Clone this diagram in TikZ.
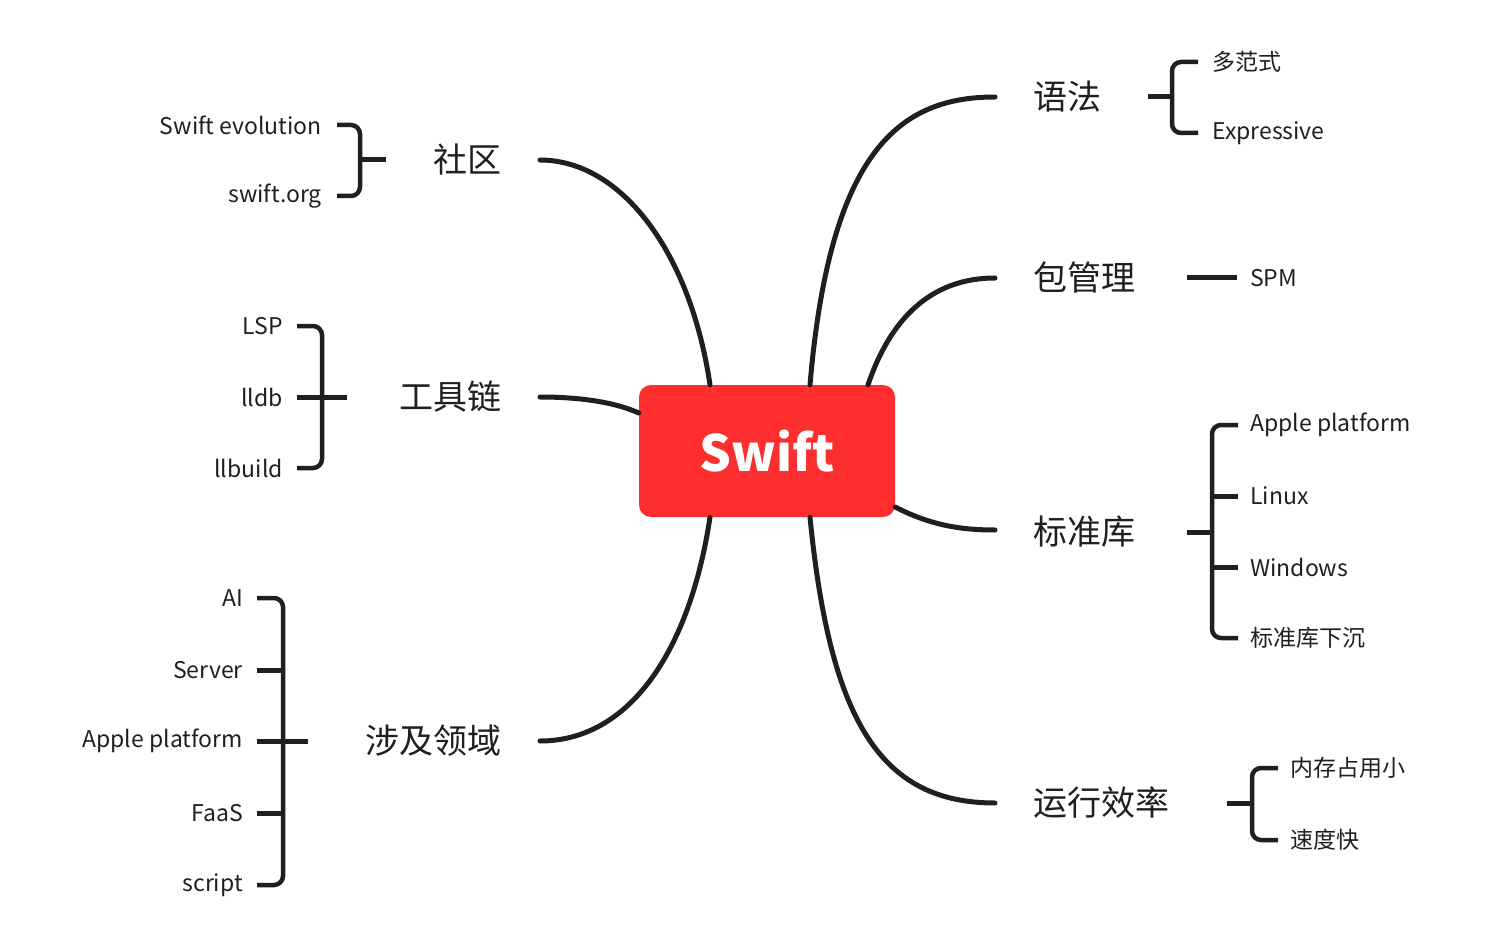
\documentclass[tikz,border=0pt]{standalone}
\usepackage{fontspec}
\setmainfont{Noto Sans CJK SC}
\begin{document}
\begin{tikzpicture}[x=1pt,y=-1pt,
  ln/.style={line width=5pt,draw=black!88,line cap=round},
  br/.style={line width=4.5pt,draw=black!88,rounded corners=9pt},
  main/.style={font=\fontsize{34}{40}\selectfont,text=black!88,inner sep=0},
  leaf/.style={font=\fontsize{23}{28}\selectfont,text=black!88,inner sep=0}]
\useasboundingbox (0,0) rectangle (1500,952);
\node[fill={rgb,255:red,255;green,46;blue,46},rounded corners=12pt,minimum width=256pt,minimum height=132pt,text=white,font=\fontsize{50}{60}\selectfont\bfseries] (sw) at (767,451) {Swift};
% main labels
\node[main,anchor=west] (yf) at (1033,97) {语法};
\node[main,anchor=west] (bgl) at (1033,278) {包管理};
\node[main,anchor=west] (bzk) at (1033,532) {标准库};
\node[main,anchor=west] (yx) at (1033,803) {运行效率};
\node[main,anchor=east] (sq) at (502,160) {社区};
\node[main,anchor=east] (gj) at (502,397) {工具链};
\node[main,anchor=east] (sj) at (502,741) {涉及领域};
% curves
\draw[ln] ([xshift=43pt]sw.north) .. controls (830,150) and (900,97) .. (995,97);
\draw[ln] ([xshift=101pt]sw.north) .. controls (890,320) and (930,278) .. (995,278);
\draw[ln] ([yshift=-56pt]sw.east) .. controls (930,525) and (960,530) .. (995,530);
\draw[ln] ([xshift=43pt]sw.south) .. controls (830,720) and (880,803) .. (995,803);
\draw[ln] ([xshift=-57pt]sw.north) .. controls (690,250) and (620,160) .. (540,160);
\draw[ln] ([yshift=38pt]sw.west) .. controls (610,400) and (570,397) .. (540,397);
\draw[ln] ([xshift=-57pt]sw.south) .. controls (690,650) and (630,741) .. (540,741);
% right leaves
\node[leaf,anchor=west] (a1) at (1212,62) {多范式};
\node[leaf,anchor=west] (a2) at (1212,133) {Expressive};
\draw[br] (1198,62) -- (1172,62) -- (1172,133) -- (1198,133);
\draw[ln,line cap=butt] (1148,97) -- (1172,97);
\node[leaf,anchor=west] (b1) at (1250,278) {SPM};
\draw[ln,line cap=butt] (1187,278) -- (1237,278);
\node[leaf,anchor=west] (c1) at (1250,425) {Apple platform};
\node[leaf,anchor=west] (c2) at (1250,496) {Linux};
\node[leaf,anchor=west] (c3) at (1250,567) {Windows};
\node[leaf,anchor=west] (c4) at (1250,638) {标准库下沉};
\draw[br] (1238,425) -- (1212,425) -- (1212,638) -- (1238,638);
\draw[ln,line cap=butt] (1212,496) -- (1238,496) (1212,567) -- (1238,567) (1187,532) -- (1212,532);
\node[leaf,anchor=west] (d1) at (1290,768) {内存占用小};
\node[leaf,anchor=west] (d2) at (1290,840) {速度快};
\draw[br] (1278,768) -- (1252,768) -- (1252,840) -- (1278,840);
\draw[ln,line cap=butt] (1227,803) -- (1252,803);
% left leaves
\node[leaf,anchor=east] (e1) at (322,125) {Swift evolution};
\node[leaf,anchor=east] (e2) at (322,196) {swift.org};
\draw[br] (337,125) -- (360,125) -- (360,196) -- (337,196);
\draw[ln,line cap=butt] (360,160) -- (386,160);
\node[leaf,anchor=east] (f1) at (283,326) {LSP};
\node[leaf,anchor=east] (f2) at (283,397) {lldb};
\node[leaf,anchor=east] (f3) at (283,468) {llbuild};
\draw[br] (297,326) -- (322,326) -- (322,468) -- (297,468);
\draw[ln,line cap=butt] (297,397) -- (347,397);
\node[leaf,anchor=east] (g1) at (243,598) {AI};
\node[leaf,anchor=east] (g2) at (243,670) {Server};
\node[leaf,anchor=east] (g3) at (243,741) {Apple platform};
\node[leaf,anchor=east] (g4) at (243,813) {FaaS};
\node[leaf,anchor=east] (g5) at (243,885) {script};
\draw[br] (257,598) -- (283,598) -- (283,885) -- (257,885);
\draw[ln,line cap=butt] (257,670) -- (283,670) (257,813) -- (283,813) (257,741) -- (308,741);
\end{tikzpicture}
\end{document}
